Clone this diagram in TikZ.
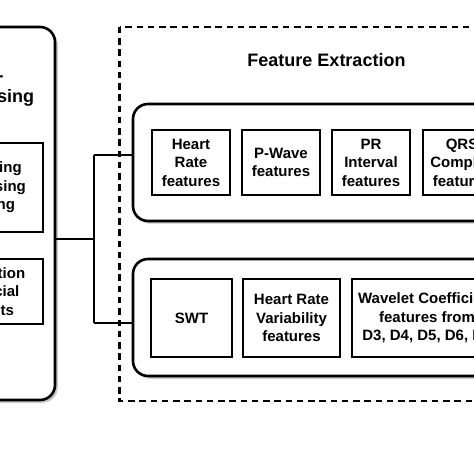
\documentclass[tikz,border=0pt]{standalone}
\usepackage{fontspec}
\setmainfont{Liberation Sans}
\usepackage{xcolor}
\usepackage{tikz}
\usetikzlibrary{positioning,shadows}
\definecolor{shadc}{HTML}{C8C8C8}
\tikzset{
  panel/.style={draw,line width=2.1pt,rounded corners=12pt,fill=white,
    drop shadow={shadow xshift=2.2pt,shadow yshift=-2.2pt,fill=shadc,opacity=1}},
  sz/.style 2 args={minimum width=#1*0.8pt,minimum height=#2*0.8pt},
  fbox/.style={draw,line width=1pt,fill=white,align=center,inner sep=0pt,font=\fontsize{12}{14.8}\selectfont\bfseries},
  ttl/.style={align=center,font=\fontsize{14.4}{16.8}\selectfont\bfseries},
  ln/.style={line width=1.8pt},
  dashbox/.style={line width=2pt,dash pattern=on 5.2pt off 3.8pt}
}
\begin{document}
\begin{tikzpicture}[x=0.8pt,y=-0.8pt]
\useasboundingbox (0,0) rectangle (474,474);
% pre-processing panel, cut by the frame
\node[panel,sz={220}{373}] (pre) at (-55,213.5) {};
\node[ttl] (pretitle) at (-14,88) {Pre-\\processing};
\node[fbox,sz={151}{89}] (filt) at (-32.5,187.5) {Signal Filtering\\Denoising using\\Thresholding};
\node[fbox,sz={104}{65}] (fid) at (-9,291.5) {Detection\\Fiducial\\Points};
% feature extraction
\draw[dashbox] (119.5,27) rectangle (533.5,401);
\node[ttl] (fetitle) at (326.5,60) {Feature Extraction};
\node[panel,sz={387}{117}] (morph) at (326.5,162.5) {};
\node[panel,sz={387}{117}] (wave) at (326.5,317.5) {};
\foreach \n/\x/\t in {hr/191/{Heart\\Rate\\features},pw/281/{P-Wave\\features},pr/371/{PR\\Interval\\features},qrs/462/{QRS\\Complex\\features}}
  \node[fbox,sz={78}{65}] (\n) at (\x,162.5) {\t};
\node[fbox,sz={81}{78}] (swt) at (191.5,318) {SWT};
\node[fbox,sz={97}{78}] (hrv) at (291.5,318) {Heart Rate\\Variability\\features};
\node[fbox,sz={150}{78}] (wcf) at (427,318) {Wavelet Coefficient\\features from\\D3, D4, D5, D6, D7};
% connectors
\coordinate (split) at (94,239);
\coordinate (up) at (94,155);
\coordinate (dn) at (94,323);
\draw[ln] (pre.east |- split) -- (split);
\draw[ln] (up) -- (dn);
\draw[ln] (up) -- (up -| morph.west);
\draw[ln] (dn) -- (dn -| wave.west);
\end{tikzpicture}
\end{document}
